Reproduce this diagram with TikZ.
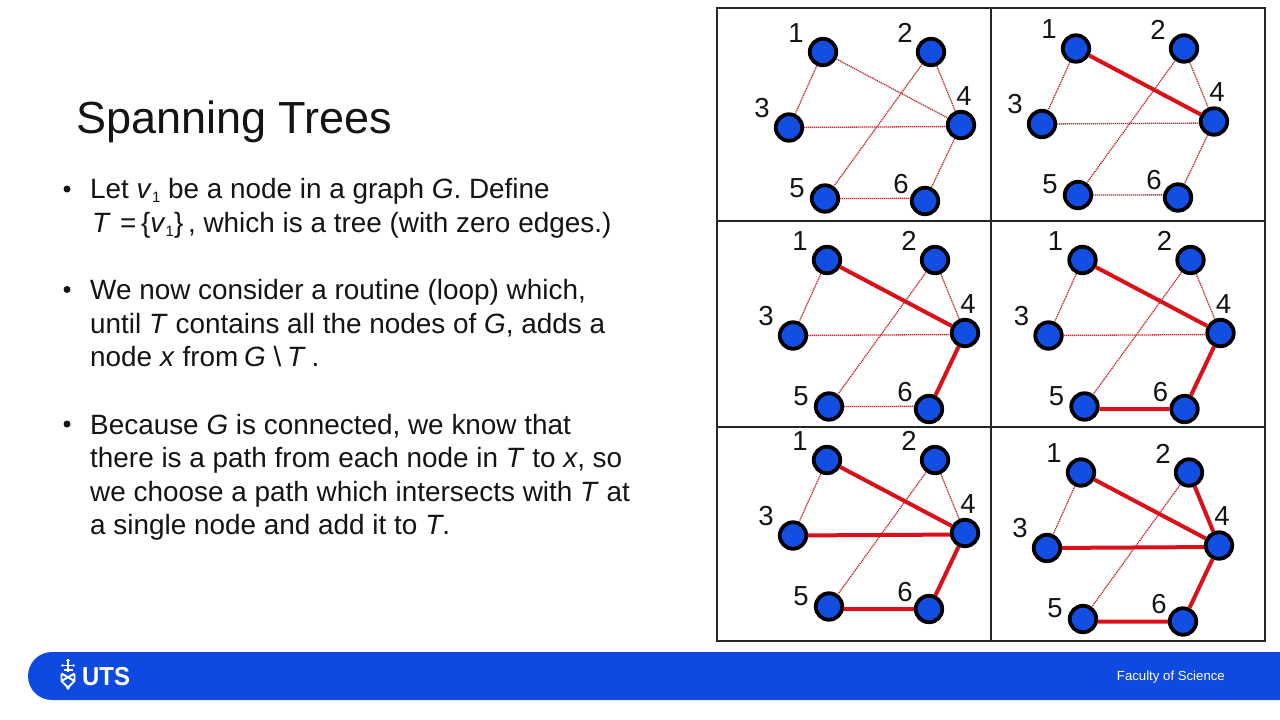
\documentclass[tikz,border=0pt]{standalone}
\usepackage{fontspec}
\usepackage{graphicx}
\setmainfont{Liberation Sans}
\definecolor{utsblue}{RGB}{15,74,224}
\definecolor{nodeblue}{RGB}{18,78,226}
\definecolor{edgered}{RGB}{218,16,26}
\definecolor{dotred}{RGB}{190,40,50}
\definecolor{ink}{RGB}{20,20,20}
\tikzset{
  gnode/.style={circle,draw=black,line width=3.8pt,fill=nodeblue,minimum size=26.5pt,inner sep=0pt},
  glabel/.style={font=\fontsize{27.5}{27.5}\selectfont,text=ink,inner sep=0pt,anchor=center},
  thin edge/.style={draw=dotred,line width=1.3pt,dash pattern=on 1.2pt off 0.8pt},
  thick edge/.style={draw=edgered,line width=4pt},
  body/.style={font=\fontsize{27.9}{27.9}\selectfont,text=ink,anchor=base west,inner sep=0pt},
  bullet/.style={circle,fill=ink,minimum size=7pt,inner sep=0pt},
  frameline/.style={draw=black!85,line width=1.5pt}
}
\newcommand{\mi}[1]{\textit{#1}}
% name, dx, dy, thin edges, thick edges
\newcommand{\pnl}[5]{%
  \begin{scope}[shift={(#2,#3)}]
    \node[gnode] (#1n1) at (823,52) {};
    \node[gnode] (#1n2) at (931,52) {};
    \node[gnode] (#1n3) at (789,127.5) {};
    \node[gnode] (#1n4) at (961,125) {};
    \node[gnode] (#1n5) at (825,198.5) {};
    \node[gnode] (#1n6) at (925,201) {};
    \node[glabel] (#1l1) at (796,33) {1};
    \node[glabel] (#1l2) at (905,33) {2};
    \node[glabel] (#1l3) at (762,108) {3};
    \node[glabel] (#1l4) at (964,96) {4};
    \node[glabel] (#1l5) at (797,188) {5};
    \node[glabel] (#1l6) at (901,184) {6};
    \foreach \a/\b in {#4}
      \path[thin edge] (#1n\a) -- (#1n\b);
    \def\thicklist{#5}%
    \ifx\thicklist\empty\else
    \foreach \a/\b in {#5}
      \path[thick edge] (#1n\a) -- (#1n\b);
    \fi
  \end{scope}}
\begin{document}
\begin{tikzpicture}[x=1pt,y=-1pt]
\useasboundingbox (0,0) rectangle (1280,720);
\fill[white] (0,0) rectangle (1280,720);
% frame
\draw[frameline] (717,8) rectangle (1265,641);
\draw[frameline] (991,8) -- (991,641);
\draw[frameline] (717,221) -- (1265,221);
\draw[frameline] (717,427) -- (1265,427);
% panels
\pnl{a}{0}{0}{1/3,1/4,2/4,2/5,3/4.186,4/6,5/6.170}{}
\pnl{b}{253}{-3.5}{1/3,2/4,2/5,3/4.186,4/6,5/6.170}{1/4}
\pnl{c}{4}{208}{1/3,2/4,2/5,3/4.186,5/6.170}{1/4,4/6}
\pnl{d}{259.5}{208}{1/3,2/4,2/5,3/4.186}{1/4,4/6,5.-10/6}
\pnl{e}{4}{408}{1/3,2/4,2/5}{1/4,4/6,5.-10/6,3/4.186}
\pnl{f}{258}{420.5}{1/3,2/5}{1/4,4/6,5.-10/6,3/4.186,2/4}
% title
\node[font=\fontsize{45}{45}\selectfont,text=ink,anchor=base west,inner sep=0pt] (title) at (76,133) {Spanning Trees};
% bullets
\node[bullet] (b1) at (67,189) {};
\node[bullet] (b2) at (67,289.5) {};
\node[bullet] (b3) at (67,424) {};
\node[body] (t1) at (90,198) {Let \mi{v}\raisebox{-4pt}{\fontsize{15}{15}\selectfont 1} be a node in a graph \mi{G}. Define};
\node[body] (t2) at (92,232) {\mi{T}\,\,=\,\{\mi{v}\raisebox{-4pt}{\fontsize{15}{15}\selectfont 1}\}\,, which is a tree (with zero edges.)};
\node[body] (t3) at (90,299) {We now consider a routine (loop) which,};
\node[body] (t4) at (90,333) {until \mi{T} contains all the nodes of \mi{G}, adds a};
\node[body] (t5) at (90,366.5) {node \mi{x} from\kern-2pt{} \mi{G} \textbackslash\kern-2pt{} \mi{T}\kern6pt.};
\node[body] (t6) at (90,434) {Because \mi{G} is connected, we know that};
\node[body] (t7) at (90,467.5) {there is a path from each node in \mi{T} to \mi{x}, so};
\node[body] (t8) at (90,501) {we choose a path which intersects with \mi{T} at};
\node[body] (t9) at (90,534) {a single node and add it to \mi{T}.};
% footer
\fill[utsblue] (1280,652) -- (52,652) .. controls (38.7,652) and (28,662.7) .. (28,676) .. controls (28,689.3) and (38.7,700) .. (52,700) -- (1280,700) -- cycle;
\node[font=\fontsize{13.2}{13.2}\selectfont,text=white,anchor=base east,inner sep=0pt] (fac) at (1225,680.5) {Faculty of Science};
\node[font=\bfseries\fontsize{26}{26}\selectfont,text=white,anchor=base west,inner sep=0pt] (uts) at (82,685.5) {\scalebox{0.92}[1]{UTS}};
% crest
\draw[white,line width=1.7pt] (68,661) -- (68,672) (62.5,665.5) -- (73.5,665.5) (63.5,670) -- (72.5,670);
\fill[white] (68,660.5) circle (1.8) (62.5,665.5) circle (1.4) (73.5,665.5) circle (1.4);
\draw[white,line width=1.9pt] (61.5,673.5) -- (74.5,681) (74.5,673.5) -- (61.5,681) (61.5,673.5) -- (61.5,681) (74.5,673.5) -- (74.5,681);
\draw[white,line width=1.9pt] (61.5,681) -- (68,687.5) -- (74.5,681);
\fill[white] (68,688) circle (1.8);
\end{tikzpicture}
\end{document}
